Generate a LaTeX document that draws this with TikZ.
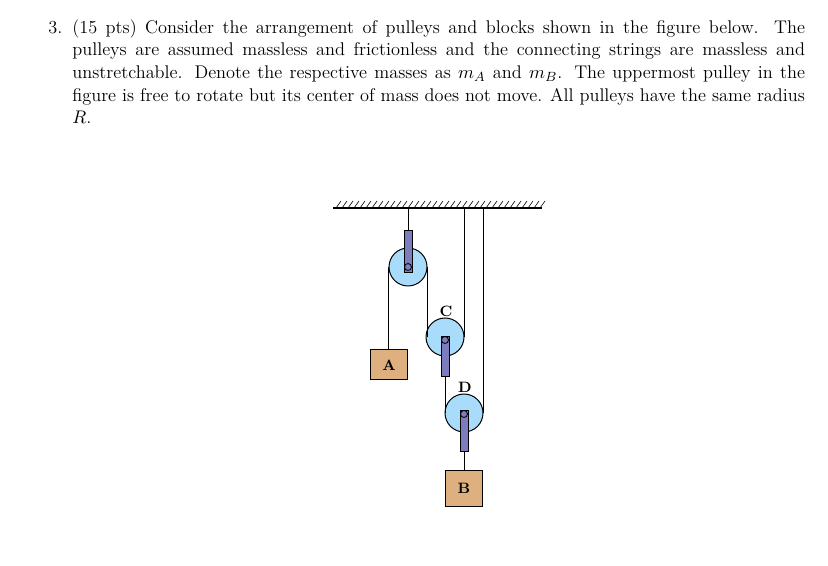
\documentclass[tikz,border=0pt]{standalone}
\usepackage{amsmath}
\definecolor{pul}{RGB}{168,220,250}
\definecolor{brk}{RGB}{125,125,190}
\definecolor{blk}{RGB}{222,176,128}
\tikzset{
  pulley/.style={circle,draw,fill=pul,line width=0.6pt,minimum size=22.8pt,inner sep=0pt},
  blockbox/.style={draw,fill=blk,line width=0.6pt,minimum width=22pt,inner sep=0pt,font=\small\bfseries},
  bracket/.style={draw,fill=brk,line width=0.5pt},
  pin/.style={draw,fill=brk,line width=0.5pt},
  rope/.style={line width=0.6pt},
  lab/.style={font=\small\bfseries,inner sep=0pt}
}
\begin{document}
\begin{tikzpicture}[x=0.6pt,y=-0.6pt]
\useasboundingbox (0,0) rectangle (828,566);
\node[anchor=north west,inner sep=0pt,text width=454pt,align=justify] (txt) at (48,19)
 {\fontsize{11}{13.6}\selectfont\hangindent=14.4pt\hangafter=1\noindent\makebox[14.4pt][l]{3.}(15 pts) Consider the arrangement of pulleys and blocks shown in the figure below. The pulleys are assumed massless and frictionless and the connecting strings are massless and unstretchable. Denote the respective masses as $m_A$ and $m_B$. The uppermost pulley in the figure is free to rotate but its center of mass does not move. All pulleys have the same radius $R$.\par};
% ceiling
\coordinate (cl) at (333,208);
\coordinate (cr) at (542,208);
\draw[line width=0.8pt] (cl) -- (cr);
\foreach \i in {0,...,34} \draw[line width=0.35pt] (336+\i*6,208) -- (341+\i*6,201);
% pulleys
\node[pulley] (P1) at (408,267) {};
\node[pulley] (PC) at (445,337) {};
\node[pulley] (PD) at (464,413) {};
% blocks
\node[blockbox,minimum height=18pt] (A) at (389,365) {A};
\node[blockbox,minimum height=22pt] (B) at (464,488.5) {B};
% ropes
\coordinate (h1) at (408,208);
\draw[rope] (h1) -- (408,232);
\draw[rope] (P1.west) -- (P1.west |- A.north);
\draw[rope] (P1.east) -- (P1.east |- PC);
\draw[rope] (PC.east) -- (PC.east |- h1);
\draw[rope] (445,376) -- (445,413);
\draw[rope] (PD.east) -- (PD.east |- h1);
\draw[rope] (464,451) -- (B.north);
% brackets
\draw[bracket] (404,230) rectangle (412,272);
\draw[pin] (408,267) circle (2.1pt);
\draw[bracket] (441,336) rectangle (449,376);
\draw[pin] (445,340) circle (2.1pt);
\draw[bracket] (460,410) rectangle (468,451);
\draw[pin] (464,414) circle (2.1pt);
% labels
\node[lab] (lc) at (446,311) {C};
\node[lab] (ld) at (465,387) {D};
\end{tikzpicture}
\end{document}
